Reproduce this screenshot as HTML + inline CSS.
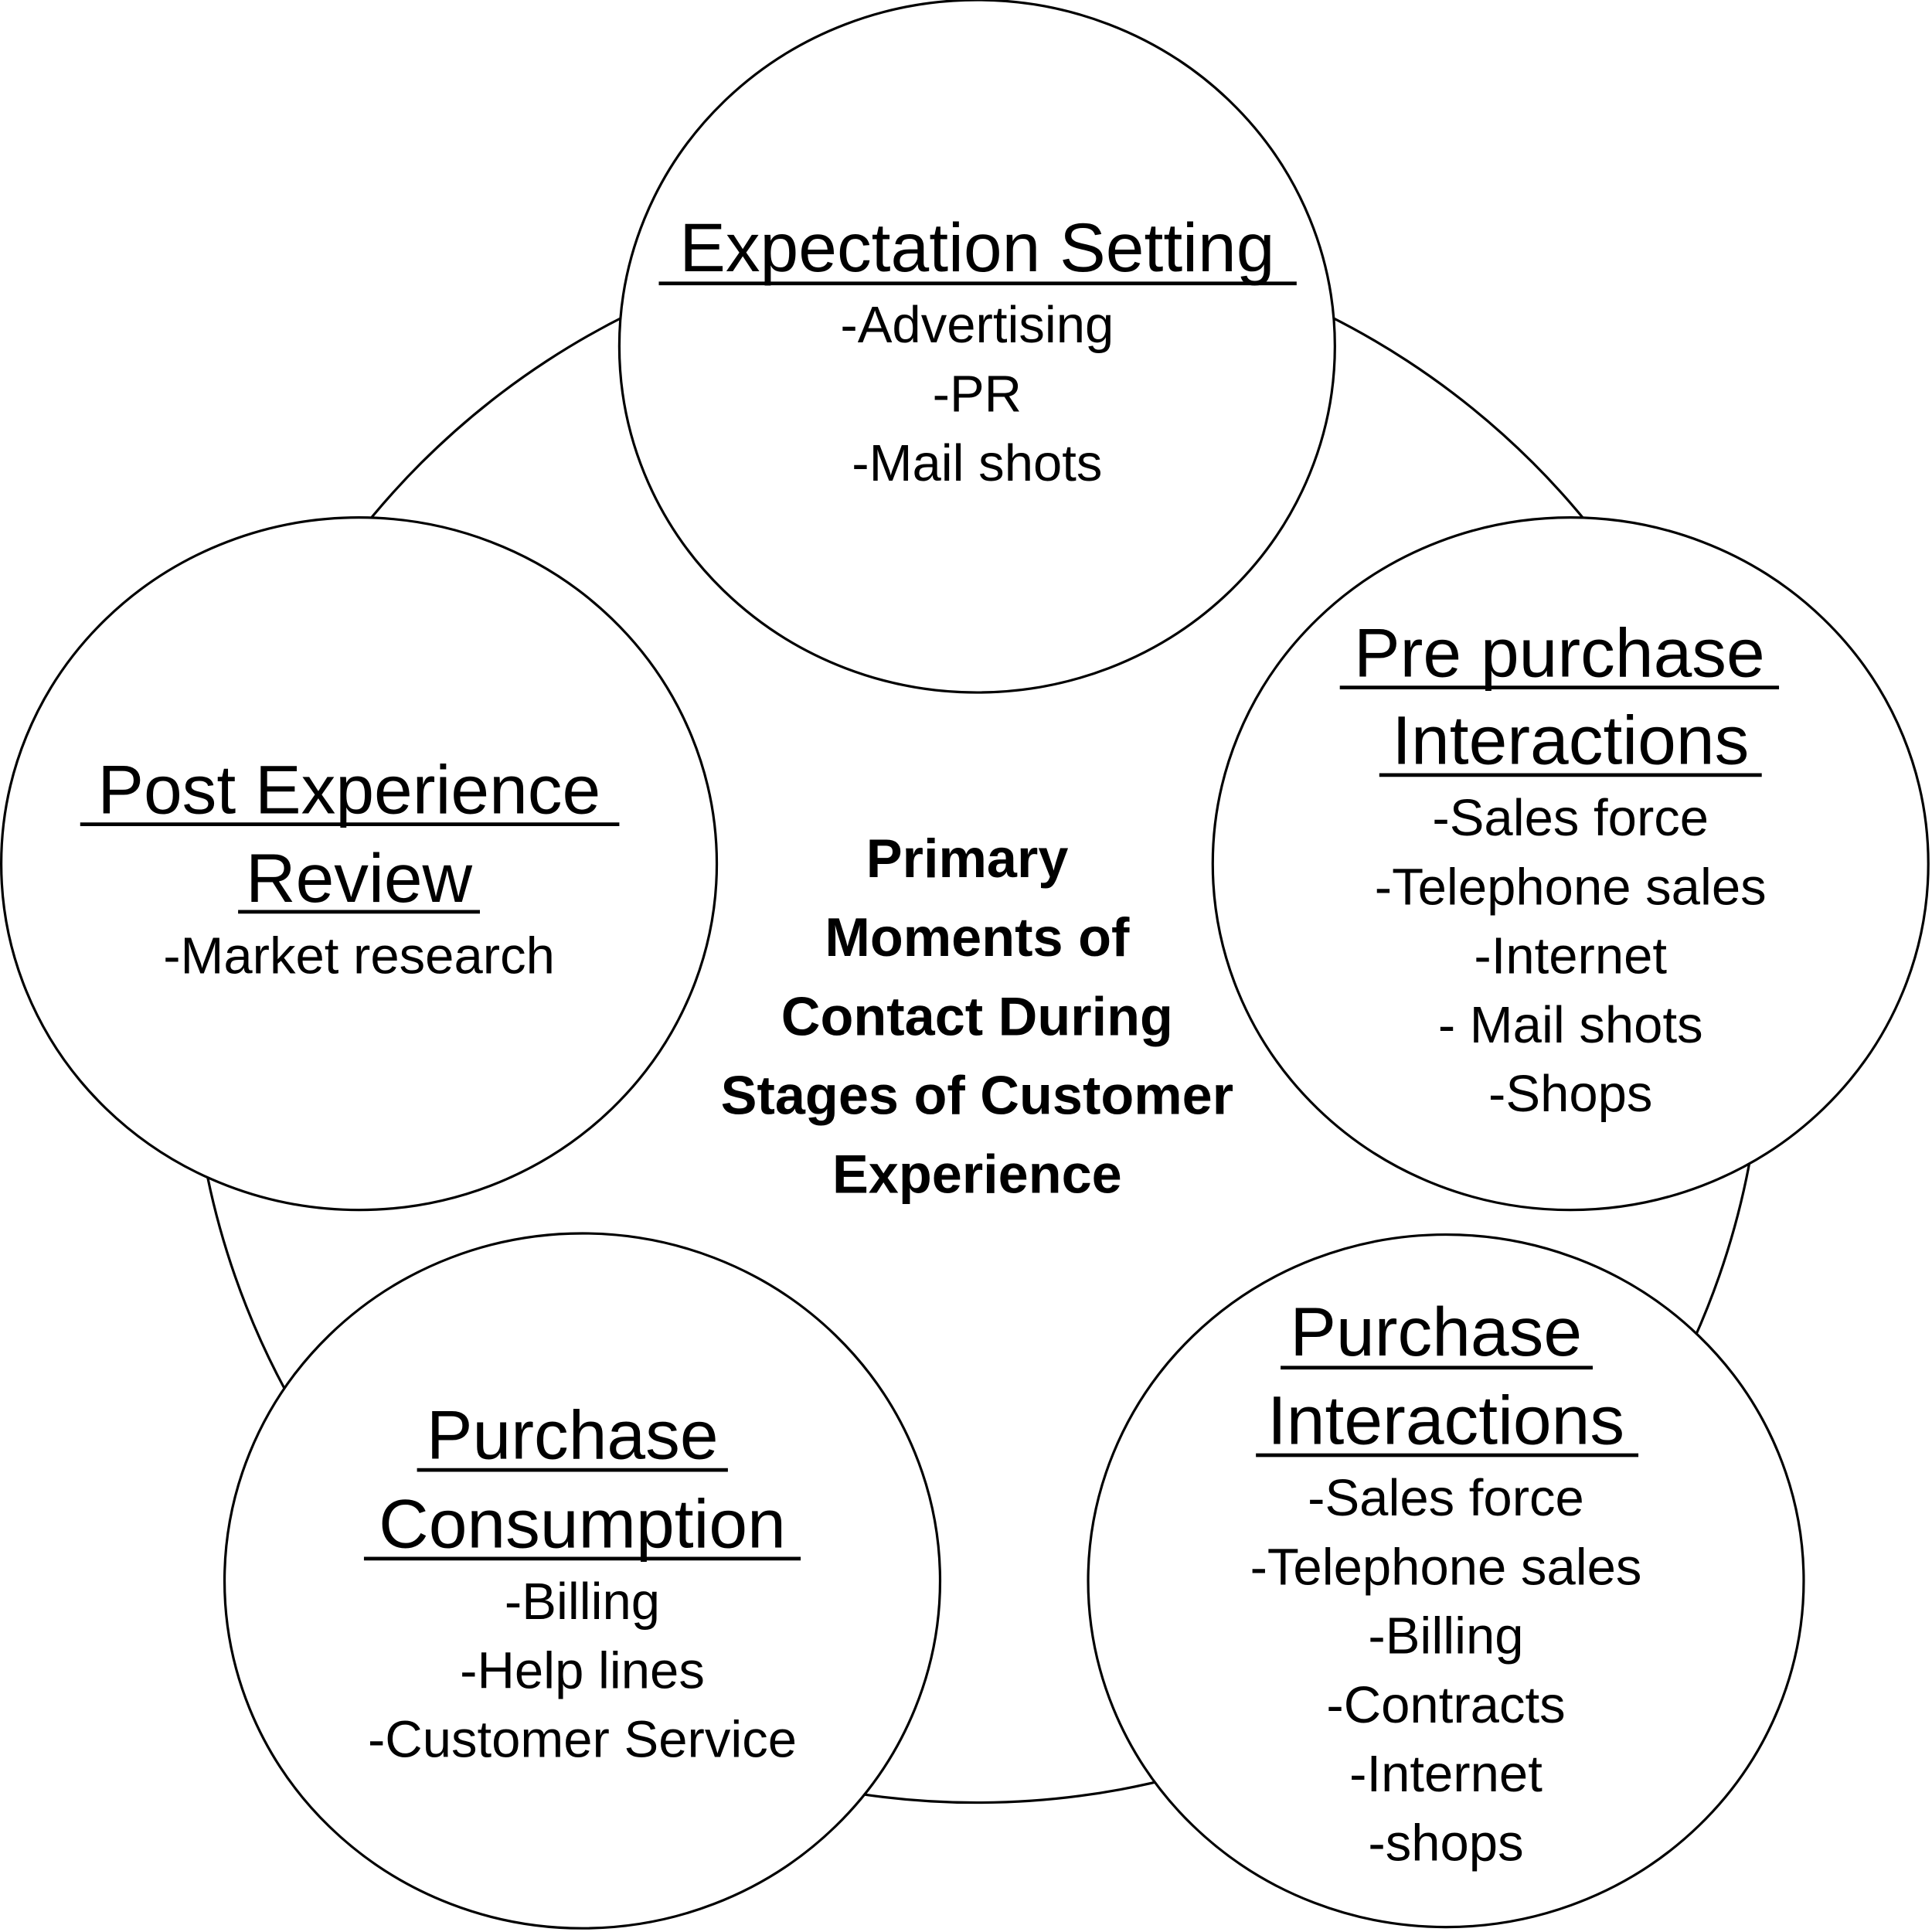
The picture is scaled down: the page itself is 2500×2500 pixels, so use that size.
<!DOCTYPE html>
<html><head><meta charset="utf-8"><style>html,body{margin:0;padding:0;background:#fff}svg{display:block}</style></head>
<body>
<svg width="2500" height="2500" viewBox="0 0 1566 1568" preserveAspectRatio="none" xmlns="http://www.w3.org/2000/svg">
<g fill="none" stroke="#000" stroke-width="2">
<circle cx="792" cy="826" r="637"/>
</g>
<g fill="#fff" stroke="#000" stroke-width="2">
<ellipse cx="792" cy="281" rx="290" ry="281"/>
<ellipse cx="291" cy="701" rx="290" ry="281"/>
<ellipse cx="1273" cy="701" rx="290" ry="281"/>
<ellipse cx="472" cy="1283" rx="290" ry="282"/>
<ellipse cx="1172" cy="1283" rx="290" ry="281"/>
</g>
<g font-family="Liberation Sans, Arial, sans-serif" text-anchor="middle" fill="#000">
<g font-size="56">
<text x="792" y="220">Expectation Setting</text>
<text x="283" y="660">Post Experience</text>
<text x="291" y="732">Review</text>
<text x="1264" y="549">Pre purchase</text>
<text x="1273" y="620">Interactions</text>
<text x="1164" y="1100">Purchase</text>
<text x="1172" y="1172">Interactions</text>
<text x="464" y="1184">Purchase</text>
<text x="472" y="1256">Consumption</text>
</g>
<g stroke="#000" stroke-width="3">
<line x1="534" y1="230" x2="1051" y2="230"/>
<line x1="65" y1="669" x2="502" y2="669"/>
<line x1="193" y1="740" x2="389" y2="740"/>
<line x1="1086" y1="558" x2="1442" y2="558"/>
<line x1="1118" y1="629" x2="1428" y2="629"/>
<line x1="1038" y1="1110" x2="1291" y2="1110"/>
<line x1="1018" y1="1181" x2="1328" y2="1181"/>
<line x1="338" y1="1193" x2="590" y2="1193"/>
<line x1="295" y1="1265" x2="649" y2="1265"/>
</g>
<g font-size="42">
<text x="792" y="278">-Advertising</text>
<text x="792" y="334">-PR</text>
<text x="792" y="390">-Mail shots</text>
<text x="291" y="790">-Market research</text>
<text x="1273" y="678">-Sales force</text>
<text x="1273" y="734">-Telephone sales</text>
<text x="1273" y="790">-Internet</text>
<text x="1273" y="846">- Mail shots</text>
<text x="1273" y="902">-Shops</text>
<text x="1172" y="1230">-Sales force</text>
<text x="1172" y="1286">-Telephone sales</text>
<text x="1172" y="1342">-Billing</text>
<text x="1172" y="1398">-Contracts</text>
<text x="1172" y="1454">-Internet</text>
<text x="1172" y="1510">-shops</text>
<text x="472" y="1314">-Billing</text>
<text x="472" y="1370">-Help lines</text>
<text x="472" y="1426">-Customer Service</text>
</g>
<g font-size="44" font-weight="bold">
<text x="784" y="712">Primary</text>
<text x="792" y="776">Moments of</text>
<text x="792" y="840">Contact During</text>
<text x="792" y="904">Stages of Customer</text>
<text x="792" y="968">Experience</text>
</g>
</g>
</svg>
</body></html>
